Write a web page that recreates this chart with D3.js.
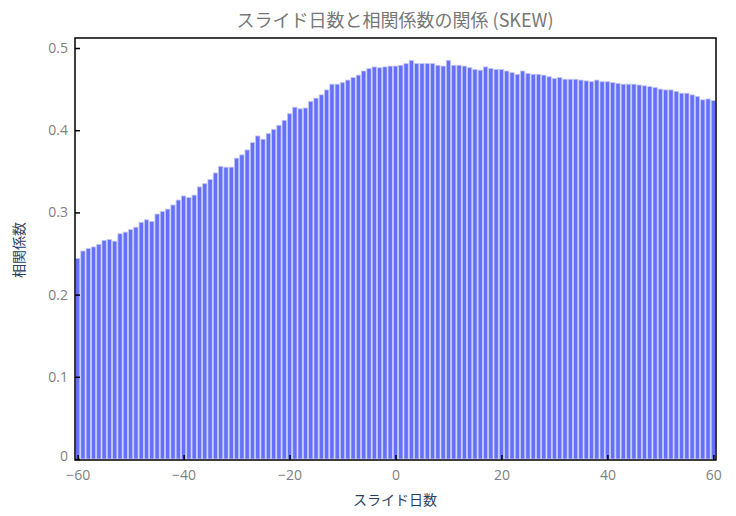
<!DOCTYPE html>
<html><head><meta charset="utf-8">
<script src="https://cdn.jsdelivr.net/npm/d3@7"></script>
<style>body{margin:0;background:#fff;} text{font-family:"Noto Sans CJK JP","Noto Sans",sans-serif;}</style>
</head><body><div id="chart"></div>
<script>
// スライド日数 -60..60
const days = d3.range(-60, 61);
const corr = [
  0.244,0.253,0.256,0.258,0.261,0.266,0.267,0.265,0.274,0.276,
  0.279,0.282,0.288,0.291,0.289,0.298,0.301,0.304,0.309,0.315,
  0.320,0.318,0.321,0.331,0.335,0.340,0.348,0.356,0.355,0.355,
  0.366,0.370,0.376,0.385,0.393,0.389,0.396,0.401,0.406,0.412,
  0.420,0.428,0.426,0.427,0.435,0.439,0.443,0.449,0.456,0.456,
  0.458,0.461,0.464,0.467,0.472,0.475,0.477,0.476,0.477,0.478,
  0.478,0.479,0.481,0.485,0.481,0.481,0.481,0.481,0.479,0.478,
  0.485,0.479,0.479,0.478,0.476,0.474,0.473,0.477,0.475,0.474,
  0.474,0.472,0.470,0.468,0.472,0.469,0.468,0.468,0.467,0.465,
  0.463,0.464,0.462,0.462,0.462,0.461,0.460,0.459,0.461,0.459,
  0.459,0.458,0.457,0.456,0.456,0.456,0.455,0.454,0.453,0.452,
  0.450,0.449,0.449,0.447,0.445,0.445,0.443,0.441,0.437,0.438,
  0.436
];
const xTicks = [-60, -40, -20, 0, 20, 40, 60];
const yTicks = [0, 0.1, 0.2, 0.3, 0.4, 0.5];

const width = 736, height = 516;
const margin = { top: 38, right: 20, bottom: 56, left: 75 };

const svg = d3.select('#chart').append('svg')
  .attr('width', width).attr('height', height);

const x = d3.scaleLinear().domain([-60.5, 60.5]).range([margin.left, width - margin.right]);
const y = d3.scaleLinear().domain([0, 0.5]).range([height - margin.bottom - 1, 48]);
const bw = x(1) - x(0);

// バー
svg.append('g').selectAll('rect')
  .data(days)
  .enter().append('rect')
  .attr('x', (d) => x(d) - bw / 2 + 0.5)
  .attr('y', (d, i) => y(corr[i]))
  .attr('width', bw - 1)
  .attr('height', (d, i) => y(0) - y(corr[i]))
  .attr('fill', '#6470fa')
  .attr('stroke', '#c4c8f6')
  .attr('stroke-width', 0.8);

// 枠
svg.append('rect')
  .attr('x', margin.left).attr('y', margin.top)
  .attr('width', width - margin.left - margin.right)
  .attr('height', height - margin.top - margin.bottom)
  .attr('fill', 'none').attr('stroke', '#000').attr('stroke-width', 1.5);

// 軸
const xAxis = svg.append('g')
  .attr('transform', `translate(0,${height - margin.bottom})`)
  .call(d3.axisBottom(x).tickValues(xTicks).tickSizeInner(-5).tickSizeOuter(0).tickPadding(10)
    .tickFormat(d => d < 0 ? '\u2212' + Math.abs(d) : d));
const yAxis = svg.append('g')
  .attr('transform', `translate(${margin.left},0)`)
  .call(d3.axisLeft(y).tickValues(yTicks).tickSizeInner(-5).tickSizeOuter(0).tickPadding(7)
    .tickFormat(d => d === 0 ? '0' : d3.format('.1f')(d)));
[xAxis, yAxis].forEach(a => {
  a.select('.domain').remove();
  a.selectAll('line').attr('stroke', '#000').attr('stroke-width', 1.5);
  a.selectAll('text').attr('fill', '#808080').style('font-size', '14px')
    .style('font-family', '"Open Sans", "Noto Sans", sans-serif');
});
yAxis.selectAll('.tick').filter(d => d === 0).select('text').attr('dy', '0.1em');

// タイトル・ラベル
svg.append('text')
  .attr('x', 395).attr('y', 27).attr('text-anchor', 'middle')
  .attr('fill', '#777').style('font-size', '18px')
  .text('スライド日数と相関係数の関係 (SKEW)');

svg.append('text')
  .attr('x', 395).attr('y', 505).attr('text-anchor', 'middle')
  .attr('fill', '#2a3f5f').style('font-size', '14px')
  .text('スライド日数');

svg.append('text')
  .attr('transform', 'rotate(-90)')
  .attr('x', -250).attr('y', 24).attr('text-anchor', 'middle')
  .attr('fill', '#2a3f5f').style('font-size', '14px')
  .text('相関係数');
</script></body></html>
